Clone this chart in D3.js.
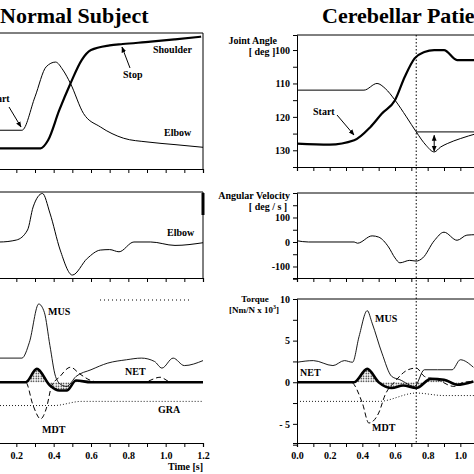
<!DOCTYPE html>
<html><head><meta charset="utf-8">
<script src="https://cdn.jsdelivr.net/npm/d3@7"></script>
<style>body{margin:0;background:#fff}text{font-family:"Liberation Serif",serif;font-weight:bold}</style>
</head><body><svg id="c" width="474" height="474"></svg>
<script>
// time samples and values
var normElbowAngle = [[0,124],[0.23,124],[0.3,114],[0.36,105],[0.41,103.6],[0.45,106],[0.49,110],[0.56,119],[0.65,123],[0.775,126.4],[0.9,127.5],[1.05,128.3],[1.2,129.1]];
var normShoulderAngle = [[0,129.4],[0.33,129.4],[0.37,127],[0.43,118],[0.49,110],[0.55,103],[0.6,100],[0.7,98.6],[0.77,98.2],[0.92,97.5],[1.05,96.8],[1.19,96]];
var patShoulderAngle = [[0,128],[0.2,128.3],[0.35,127],[0.45,123],[0.52,119],[0.6,115],[0.66,108],[0.72,102.5],[0.78,100.6],[0.84,100],[0.9,100],[0.98,103],[1.1,103]];
var patElbowAngle = [[0,112],[0.41,112],[0.49,110],[0.54,111.5],[0.6,115],[0.67,120],[0.73,124.5],[0.79,128.5],[0.84,130.5],[0.88,129],[0.92,128],[1.0,126.5],[1.1,125]];
var normElbowVel = [[0,0],[0.11,0],[0.2,8],[0.26,49],[0.29,143],[0.34,198],[0.38,118],[0.435,-33],[0.5,-135],[0.58,-67],[0.65,-33],[0.7,-31],[0.75,-40],[0.83,0],[0.92,0],[1.05,-14],[1.2,-3]];
var patVel = [[0,5],[0.07,0],[0.35,0],[0.37,-5],[0.46,25],[0.5,20],[0.56,-20],[0.6,-65],[0.63,-85],[0.69,-75],[0.73,-78],[0.77,-65],[0.84,5],[0.9,40],[0.98,7],[1.04,28],[1.1,30]];
var normMUS = [[0,2.9],[0.23,2.9],[0.27,4.8],[0.32,9.4],[0.35,8.4],[0.38,4.4],[0.41,0.7],[0.44,-0.3],[0.47,-0.5],[0.52,0.7],[0.6,1.5],[0.69,2.3],[0.79,2.7],[0.87,2.9],[0.94,2.5],[0.98,1.7],[1.04,2.9],[1.1,2.0],[1.2,2.6]];
var normNET = [[0,0],[0.25,0],[0.31,1.6],[0.38,-0.4],[0.43,-1.0],[0.47,-1.0],[0.52,0.2],[0.6,0],[1.2,0]];
var normMDT = [[0,0],[0.25,0],[0.29,-2.8],[0.33,-4.4],[0.36,-3.2],[0.39,-0.4],[0.43,0.6],[0.49,1.8],[0.54,1.0],[0.6,0.2],[0.65,0],[0.88,0],[0.97,0.6],[1.03,0],[1.2,0]];
var normGRA = [[0,-2.8],[0.4,-2.8],[0.55,-2.3],[1.2,-2.3]];
var patMUS = [[0,2.4],[0.1,2.6],[0.22,2.0],[0.29,2.6],[0.34,2.4],[0.38,5.5],[0.43,8.6],[0.46,7.1],[0.52,3.5],[0.58,0.7],[0.63,0.3],[0.72,-0.5],[0.78,1.5],[0.86,1.5],[0.95,1.5],[1.0,2.7],[1.08,1.8]];
var patNET = [[0,0],[0.35,0],[0.43,1.6],[0.5,0],[0.58,-0.7],[0.65,-0.4],[0.73,-0.7],[0.82,0.4],[0.9,0.3],[0.98,-0.3],[1.08,0.1]];
var patMDT = [[0,0],[0.33,0],[0.4,-2.5],[0.44,-4.9],[0.5,-3.7],[0.54,-1.5],[0.6,0.1],[0.68,1.5],[0.73,1.7],[0.78,0.7],[0.86,0.3],[0.96,-0.5],[1.02,0],[1.08,0.1]];
var patGRA = [[0,-2.3],[0.5,-2.3],[0.73,-1.3],[0.9,-1.6],[1.1,-1.6]];
var leftTimeLabels = [0.2,0.4,0.6,0.8,1.0,1.2];
var rightTimeLabels = [0.0,0.2,0.4,0.6,0.8,1.0];
var angleTicks = [100,110,120,130];
var velTicks = [-100,0,100];
var torqueTicks = [-5,0,5,10];

var svg = d3.select("#c");
var xL = d3.scaleLinear().domain([0,1.2]).range([-21,203]);
var xR = d3.scaleLinear().domain([0,1.2]).range([297,493]);
var yAng = d3.scaleLinear().domain([95.5,135]).range([35,167]);
var yVel = d3.scaleLinear().domain([200,-147]).range([193,278]);
var yTor = d3.scaleLinear().domain([10,-7.3]).range([299,443]);

var defs = svg.append("defs");
defs.append("pattern").attr("id","dots").attr("width",2.5).attr("height",2.5).attr("patternUnits","userSpaceOnUse")
  .append("circle").attr("cx",1.2).attr("cy",1.2).attr("r",0.7).attr("fill","#000");

function line(x,y,data,w,dash){
  svg.append("path").datum(data)
    .attr("d",d3.line().x(function(d){return x(d[0]);}).y(function(d){return y(d[1]);}).curve(d3.curveMonotoneX))
    .attr("fill","none").attr("stroke","#000").attr("stroke-width",w).attr("stroke-dasharray",dash||null);
}
function net(x,y,data){
  svg.append("path").datum(data)
    .attr("d",d3.area().x(function(d){return x(d[0]);}).y0(y(0)).y1(function(d){return y(d[1]);}).curve(d3.curveMonotoneX))
    .attr("fill","url(#dots)");
}
function xAxis(x,yPos,labels){
  var ax = d3.axisBottom(x).tickValues(d3.range(0.1,1.25,0.1).concat([0])).tickSize(4)
    .tickFormat(function(d){
      if(!labels) return "";
      for(var i=0;i<labels.length;i++) if(Math.abs(labels[i]-d)<1e-6) return d3.format(".1f")(d);
      return "";
    });
  var g = svg.append("g").attr("transform","translate(0,"+yPos+")").call(ax);
  g.select(".domain").attr("stroke-width",1.2);
  g.selectAll("text").attr("font-size",10).attr("dy","0.9em");
}
function yAxis(y,ticks,minor,fmt){
  var g = svg.append("g").attr("transform","translate(297,0)")
    .call(d3.axisLeft(y).tickValues(minor).tickSize(4).tickFormat(function(d){return ticks.indexOf(d)>=0?(fmt?fmt(d):d):"";}));
  g.selectAll("text").attr("font-size",10);
}
function txt(x,y,s,size,anchor){
  return svg.append("text").attr("x",x).attr("y",y).attr("font-size",size||10).attr("text-anchor",anchor||"start").text(s);
}
function frameTop(x0,x1,y){ svg.append("line").attr("x1",x0).attr("x2",x1).attr("y1",y).attr("y2",y).attr("stroke","#000"); }

// titles
txt(0,23,"Normal Subject",22);
txt(322,23,"Cerebellar Patient",22);

// ---- left column
frameTop(0,203,33); frameTop(0,203,192);
svg.append("line").attr("x1",203).attr("x2",203).attr("y1",33).attr("y2",169).attr("stroke","#000");
svg.append("line").attr("x1",203).attr("x2",203).attr("y1",192).attr("y2",278).attr("stroke","#000");
svg.append("line").attr("x1",203).attr("x2",203).attr("y1",193).attr("y2",215).attr("stroke","#000").attr("stroke-width",3);
line(xL,yAng,normElbowAngle,1);
line(xL,yAng,normShoulderAngle,2.2);
xAxis(xL,169,null);
line(xL,yVel,normElbowVel,1);
xAxis(xL,278,null);
svg.append("line").attr("x1",100).attr("x2",190).attr("y1",300).attr("y2",300).attr("stroke","#000").attr("stroke-dasharray","1,3");
net(xL,yTor,normNET);
line(xL,yTor,normMUS,0.9);
line(xL,yTor,normMDT,1,"5,3");
line(xL,yTor,normGRA,0.9,"1,2");
line(xL,yTor,normNET,2.6);
xAxis(xL,443,leftTimeLabels);
txt(203,470,"Time [s]",10,"end");

txt(153,53,"Shoulder"); txt(123,78,"Stop"); txt(164,136,"Elbow"); txt(-12,102,"Start");
txt(167,236,"Elbow");
txt(48,315,"MUS"); txt(125,375,"NET"); txt(158,413,"GRA"); txt(42,433,"MDT");

var arrow = defs.append("marker").attr("id","ah").attr("viewBox","0 0 10 10").attr("refX",9).attr("refY",5)
  .attr("markerWidth",6).attr("markerHeight",6).attr("orient","auto-start-reverse");
arrow.append("path").attr("d","M0,1L10,5L0,9z");
function arr(x1,y1,x2,y2,both){
  var l = svg.append("line").attr("x1",x1).attr("y1",y1).attr("x2",x2).attr("y2",y2).attr("stroke","#000").attr("marker-end","url(#ah)");
  if(both) l.attr("marker-start","url(#ah)");
}
arr(9,107,21,127); arr(130,68,122,47);

// ---- right column
frameTop(297,474,35); frameTop(297,474,193); frameTop(297,474,299);
line(xR,yAng,patElbowAngle,1);
line(xR,yAng,patShoulderAngle,2.2);
yAxis(yAng,angleTicks,[100,105,110,115,120,125,130,135]);
xAxis(xR,167,null);
svg.append("line").attr("x1",xR(0.73)).attr("x2",474).attr("y1",yAng(124.5)).attr("y2",yAng(124.5)).attr("stroke","#000");
arr(xR(0.84),yAng(125.5),xR(0.84),yAng(130.3),true);
txt(313,115,"Start"); arr(337,115,354,135);
txt(277,44,"Joint Angle",10,"end"); txt(262,55,"[ deg ]",10,"middle");

line(xR,yVel,patVel,1);
yAxis(yVel,velTicks,[-150,-100,-50,0,50,100,150]);
xAxis(xR,278,null);
txt(290,199,"Angular Velocity",10,"end"); txt(268,210,"[ deg / s ]",10,"middle");

net(xR,yTor,patNET);
line(xR,yTor,patMUS,0.9);
line(xR,yTor,patMDT,1,"5,3");
line(xR,yTor,patGRA,0.9,"1,2");
line(xR,yTor,patNET,2.6);
yAxis(yTor,torqueTicks,[-7.5,-5,-2.5,0,2.5,5,7.5,10],function(d){return d<0?"- "+(-d):d;});
xAxis(xR,443,rightTimeLabels);
txt(255,302,"Torque",9,"middle");
var u = txt(254,313,"[Nm/N x 10",9,"middle"); u.append("tspan").attr("dy",-4).attr("font-size",6).text("3"); u.append("tspan").attr("dy",4).text("]");
txt(375,322,"MUS"); txt(300,376,"NET"); txt(372,431,"MDT");

svg.append("line").attr("x1",xR(0.73)).attr("x2",xR(0.73)).attr("y1",35).attr("y2",443).attr("stroke","#000").attr("stroke-dasharray","1.5,2");
</script></body></html>
